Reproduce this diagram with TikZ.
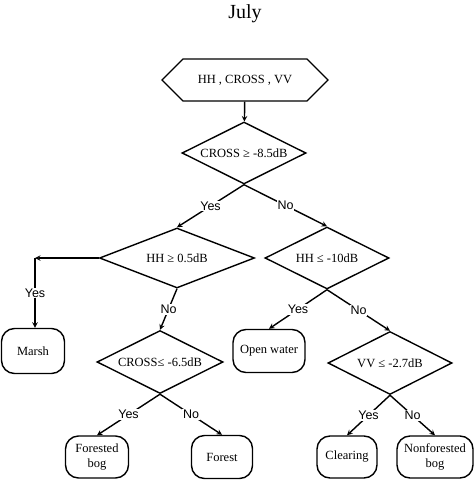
\documentclass[tikz,border=0pt]{standalone}
\usepackage{fontspec}
\setmainfont{Liberation Serif}
\newfontfamily\answerfont{Liberation Sans}
\usetikzlibrary{positioning}
\usetikzlibrary{shapes,arrows}

\begin{document}
\begin{tikzpicture}[x=1pt, y=-1pt, >=stealth, line width=1.4pt,
    decision/.style={diamond, draw, aspect=2, inner sep=0pt,
      minimum width=124pt, minimum height=62pt, font=\fontsize{12.5}{14}\selectfont},
    leaf/.style={rectangle, draw, rounded corners=13pt, align=center, inner sep=0pt,
      minimum height=43pt, font=\fontsize{12.5}{15}\selectfont},
    answer/.style={fill=white, inner sep=1pt, font=\answerfont\fontsize{12.5}{14}\selectfont}]

  \useasboundingbox (0,0) rectangle (474,481);

  \node[font=\fontsize{20}{24}\selectfont] (title) at (245,14) {July};
  \node[signal, signal to=west and east, signal pointer angle=90, draw, inner sep=0pt,
    minimum width=166pt, minimum height=42pt, font=\fontsize{12.5}{14}\selectfont]
    (bands) at (245,80) {HH , CROSS , VV};

  % decisions
  \node[decision] (cross1) at (244,153) {CROSS ≥ -8.5dB};
  \node[decision, minimum width=155pt, minimum height=60pt] (hh1) at (177,258) {HH ≥ 0.5dB};
  \node[decision] (hh2) at (327,258) {HH ≤ -10dB};
  \node[decision, minimum width=126pt, minimum height=63pt] (cross2) at (160,362) {CROSS≤ -6.5dB};
  \node[decision, minimum height=63pt] (vv1) at (390,363) {VV ≤ -2.7dB};

  % classes
  \node[leaf, minimum width=63pt, minimum height=45pt] (marsh) at (33,351) {Marsh};
  \node[leaf, minimum width=72pt] (water) at (269,351) {Open water};
  \node[leaf, minimum width=63pt, minimum height=42pt] (fbog) at (97,457) {Forested\\bog};
  \node[leaf, minimum width=61pt] (forest) at (222,457) {Forest};
  \node[leaf, minimum width=60pt, minimum height=42pt] (clearing) at (347,457) {Clearing};
  \node[leaf, minimum width=76pt, minimum height=42pt] (nfbog) at (435,457) {Nonforested\\bog};

  \coordinate (bend) at (35,258);

  \draw[->] (bands) -- (cross1);
  \draw[->] (cross1.south) -- node[answer] {Yes} (hh1.north);
  \draw[->] (cross1.south) -- node[answer] {No} (hh2.north);
  \draw[->] (hh1.west) -- (bend);
  \draw[->] (bend) -- node[answer] {Yes} (bend |- marsh.north);
  \draw[->] (hh1.south) -- node[answer] {No} (cross2.north);
  \draw[->] (hh2.south) -- node[answer] {Yes} (water.north);
  \draw[->] (hh2.south) -- node[answer] {No} (vv1.north);
  \draw[->] (cross2.south) -- node[answer] {Yes} (fbog.north);
  \draw[->] (cross2.south) -- node[answer] {No} (forest.north);
  \draw[->] (vv1.south) -- node[answer] {Yes} (clearing.north);
  \draw[->] (vv1.south) -- node[answer] {No} (nfbog.north);
\end{tikzpicture}
\end{document}
